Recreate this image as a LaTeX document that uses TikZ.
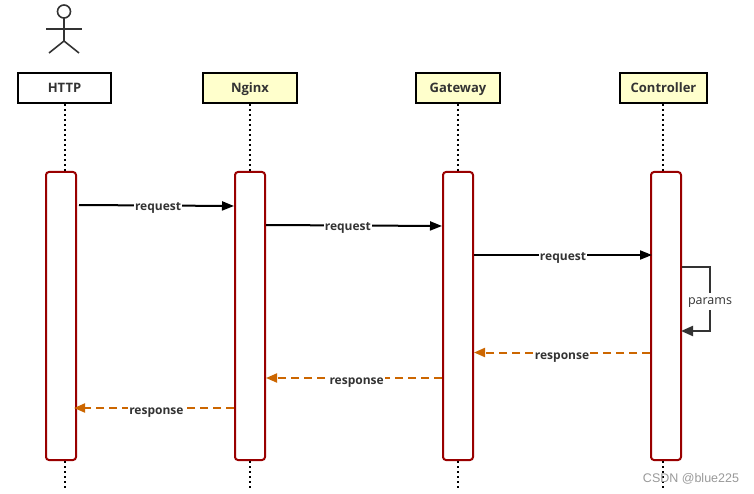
\documentclass[tikz,border=0pt]{standalone}
\usepackage{fontspec}
\setmainfont{Open Sans}
\newfontfamily\wmfont{Liberation Sans}
\usetikzlibrary{arrows.meta}
\definecolor{darkred}{HTML}{990000}
\definecolor{lemon}{HTML}{FFFFCC}
\definecolor{orangeline}{HTML}{CC6600}
\definecolor{inktext}{HTML}{333333}
\tikzset{
  x=1pt,y=-1pt,
  headbox/.style={draw=black,line width=2pt,minimum height=30pt,inner sep=0pt,text=inktext,text height=12.5pt,text depth=3pt,font=\bfseries\fontsize{13}{15}\selectfont},
  yellowbox/.style={headbox,fill=lemon},
  activebar/.style={draw=darkred,fill=white,line width=2pt,rounded corners=3pt,minimum width=30pt,minimum height=288pt,inner sep=0pt},
  lifeline/.style={draw=black,line width=2pt,dash pattern=on 2pt off 3pt},
  reqline/.style={draw=black,line width=2pt,-{Triangle[length=12pt,width=9pt]}},
  respline/.style={draw=orangeline,line width=2pt,dash pattern=on 8pt off 5pt,-{Triangle[length=11pt,width=9pt,fill=orangeline]}},
  msg/.style={fill=white,inner sep=1pt,text=inktext,text height=9pt,text depth=3pt,font=\bfseries\fontsize{12}{14}\selectfont},
  selfline/.style={draw=inktext,line width=2pt,-{Triangle[length=12pt,width=10pt]}},
  selfmsg/.style={fill=white,inner sep=1.5pt,text=inktext,text height=10pt,text depth=4pt,font=\fontsize{12.5}{14}\selectfont},
  actorline/.style={draw=inktext,line width=1.6pt}
}
\begin{document}
\begin{tikzpicture}
\useasboundingbox (0,0) rectangle (754,494);
% actor
\draw[actorline] (64,11.5) circle (6.5);
\draw[actorline] (64,18) -- (64,41);
\draw[actorline] (46,29) -- (82,29);
\draw[actorline] (49,53) -- (64,41) -- (79,53);
% heads
\node[headbox,minimum width=93pt] (h) at (64.5,88) {HTTP};
\node[yellowbox,minimum width=94pt] (n) at (250,88) {Nginx};
\node[yellowbox,minimum width=84pt] (g) at (458,88) {Gateway};
\node[yellowbox,minimum width=87pt] (c) at (663.5,88) {Controller};
% bars
\node[activebar] (ha) at (61,316) {};
\node[activebar] (na) at (250,316) {};
\node[activebar] (ga) at (458,316) {};
\node[activebar] (ca) at (666,316) {};
% bottom ends
\coordinate (hb) at (65,488);
\coordinate (nb) at (250,488);
\coordinate (gb) at (458,488);
\coordinate (cb) at (663,488);
% lifelines
\draw[lifeline] (h.south -| hb) -- (ha.north -| hb);
\draw[lifeline] (n.south) -- (na.north);
\draw[lifeline] (g.south) -- (ga.north);
\draw[lifeline] (c.south -| cb) -- (ca.north -| cb);
\draw[lifeline] (ha.south -| hb) -- (hb);
\draw[lifeline] (na.south) -- (nb);
\draw[lifeline] (ga.south) -- (gb);
\draw[lifeline] (ca.south -| cb) -- (cb);
% requests
\draw[reqline] ([shift={(2,34)}]ha.north east) -- node[msg,pos=0.51,yshift=-2pt] {request} ([shift={(0,35)}]na.north west);
\draw[reqline] ([shift={(0,54)}]na.north east) -- node[msg,pos=0.465,yshift=-2pt] {request} ([shift={(0,55)}]ga.north west);
\draw[reqline] ([shift={(0,84)}]ga.north east) -- node[msg,pos=0.5,yshift=-2pt] {request} ([shift={(2,84)}]ca.north west);
% self message
\draw[selfline] ([shift={(0,96)}]ca.north east) -- ([shift={(28,96)}]ca.north east) -- ([shift={(28,160)}]ca.north east) -- ([shift={(-1,160)}]ca.north east);
\node[selfmsg] (pm) at (710,301) {params};
% responses
\draw[respline] ([shift={(0,181.5)}]ca.north west) -- node[msg,pos=0.5,yshift=-3.5pt] {response} ([shift={(0,181.5)}]ga.north east);
\draw[respline] ([shift={(0,207)}]ga.north west) -- node[msg,pos=0.485,yshift=-3pt] {response} ([shift={(0,207)}]na.north east);
\draw[respline] ([shift={(0,237)}]na.north west) -- node[msg,pos=0.485,yshift=-3pt] {response} ([shift={(-3,237)}]ha.north east);
% watermark
\node[text=black!40,font=\wmfont\fontsize{12.5}{14}\selectfont,inner sep=0pt] (wm) at (691,479) {CSDN @blue225};
\end{tikzpicture}
\end{document}
